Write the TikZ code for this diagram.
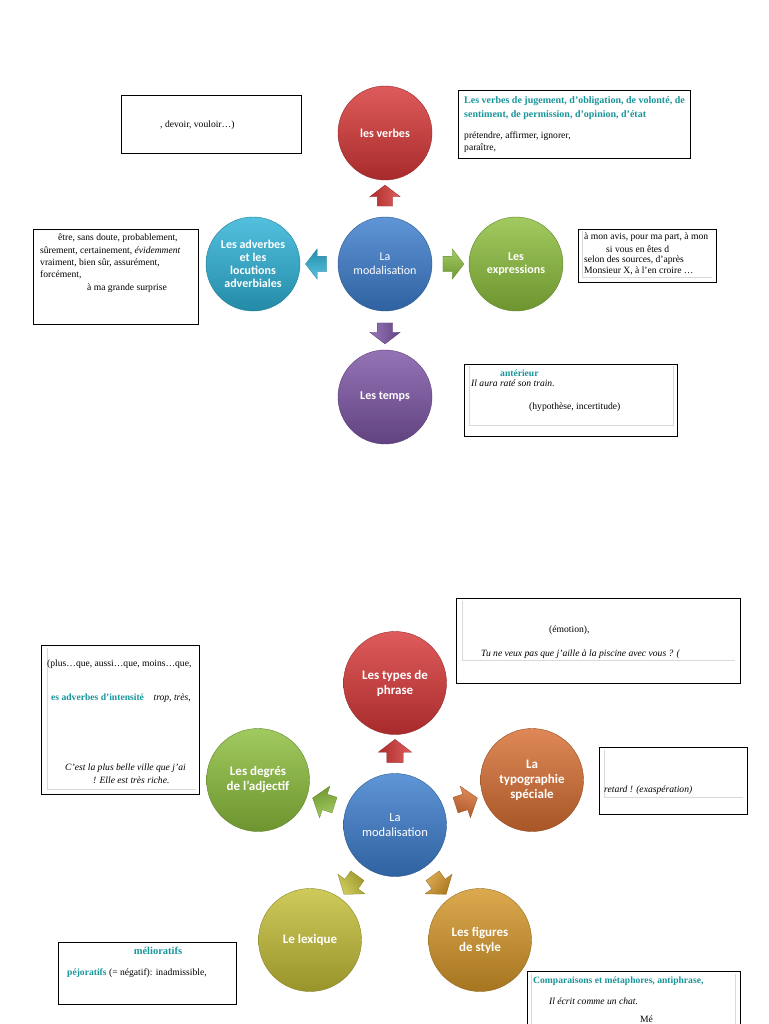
\documentclass[tikz,border=0pt]{standalone}
\usepackage{fontspec}
\setmainfont{Liberation Serif}
\newfontfamily\calibri{Carlito}
\usetikzlibrary{positioning,calc,shapes.arrows}

\definecolor{bleuvert}{RGB}{25,150,155}
\definecolor{rouge}{RGB}{215,55,55}
\definecolor{bleu}{RGB}{60,125,205}
\definecolor{cyan}{RGB}{45,178,215}
\definecolor{vert}{RGB}{140,190,60}
\definecolor{violet}{RGB}{125,85,165}
\definecolor{orange}{RGB}{215,110,50}
\definecolor{olive}{RGB}{195,190,55}
\definecolor{ocre}{RGB}{212,150,40}

\begin{document}
\begin{tikzpicture}[
  x=1pt, y=-1pt,
  bulle/.style={circle, minimum size=94pt, inner sep=1pt, align=center, text=white,
    font=\calibri\bfseries\fontsize{12}{13}\selectfont,
    top color=#1!82!white, bottom color=#1!78!black, draw=#1!70!black, line width=0.4pt},
  grande/.style={minimum size=103pt, font=\calibri\bfseries\fontsize{13}{15}\selectfont},
  centre/.style={font=\calibri\fontsize{12}{14}\selectfont},
  fleche/.style 2 args={single arrow, single arrow head extend=7.5pt, single arrow tip angle=105,
    inner xsep=0pt, inner ysep=7.5pt, minimum height=21pt, rotate=#1,
    top color=#2!80!white, bottom color=#2!80!black, shading angle=-#1,
    draw=#2!70!black, line width=0.3pt},
  grandefleche/.style={inner ysep=8pt, single arrow head extend=8.5pt, minimum height=23pt},
  cadre/.style={draw, line width=0.8pt, inner sep=0pt, anchor=north west},
  filet/.style={draw=black!15, line width=0.6pt},
  texte/.style={inner sep=0pt, anchor=west, font=\fontsize{9.6}{11}\selectfont},
  titre/.style={texte, text=bleuvert, font=\bfseries\fontsize{9.6}{11}\selectfont}
]
\useasboundingbox[fill=white] (0,0) rectangle (768,1024);

% Schema 1 : cercles
\node[bulle=bleu, centre] (mod) at (385,264) {La\\modalisation};
\node[bulle=rouge] (verbes) at (385,133) {les verbes};
\node[bulle=cyan] (adv) at (253,264) {Les adverbes\\et les\\locutions\\adverbiales};
\node[bulle=vert] (expr) at (516,264) {Les\\expressions};
\node[bulle=violet] (temps) at (385,397) {Les temps};

\node[fleche={90}{rouge}] (f1) at ($(mod)!0.5!(verbes)$) {};
\node[fleche={180}{cyan}] (f2) at ($(mod)!0.5!(adv)$) {};
\node[fleche={0}{vert}] (f3) at ($(mod)!0.5!(expr)$) {};
\node[fleche={-90}{violet}] (f4) at ($(mod)!0.5!(temps)$) {};

% Schema 1 : cadres
\node[cadre, minimum width=180pt, minimum height=58pt] (bA) at (121,95) {};
\node[texte] (tA) at (160,125) {, devoir, vouloir…)};

\node[cadre, minimum width=232pt, minimum height=68pt] (bB) at (458,90) {};
\node[titre, font=\bfseries\fontsize{10}{11}\selectfont] (tB1) at (464,101) {Les verbes de jugement, d'obligation, de volonté, de};
\node[titre, font=\bfseries\fontsize{10}{11}\selectfont] (tB2) at (464,115) {sentiment, de permission, d'opinion, d'état};
\node[texte] (tB3) at (464,136) {prétendre, affirmer, ignorer,};
\node[texte] (tB4) at (464,148) {paraître,};

\node[cadre, minimum width=165pt, minimum height=95pt] (bC) at (33,229) {};
\node[texte] (tC1) at (58,238) {être, sans doute, probablement,};
\node[texte] (tC2) at (40,251) {sûrement, certainement, \textit{évidemment}};
\node[texte] (tC3) at (40,263) {vraiment, bien sûr, assurément,};
\node[texte] (tC4) at (40,275) {forcément,};
\node[texte] (tC5) at (87,288) {à ma grande surprise};

\node[cadre, minimum width=138pt, minimum height=53pt] (bD) at (578,229) {};
\draw[filet] (582,231) -- (582,277) -- (712,277);
\node[texte] (tD1) at (584,237) {à mon avis, pour ma part, à mon};
\node[texte] (tD2) at (606,249) {si vous en êtes d};
\node[texte] (tD3) at (584,260) {selon des sources, d'après};
\node[texte] (tD4) at (584,271) {Monsieur X, à l'en croire …};

\node[cadre, minimum width=213pt, minimum height=72pt] (bE) at (464,364) {};
\draw[filet] (469,366) -- (469,425) -- (673,425) -- (673,366);
\node[titre] (tE1) at (500,373) {antérieur};
\node[texte] (tE2) at (471,383) {\textit{Il aura raté son train.}};
\node[texte] (tE3) at (529,407) {(hypothèse, incertitude)};

% Schema 2 : cercles
\node[bulle=bleu, grande, centre, font=\calibri\fontsize{12.5}{15}\selectfont] (mod2) at (395,825) {La\\modalisation};
\node[bulle=rouge, grande] (types) at (395,683) {Les types de\\phrase};
\node[bulle=vert, grande] (degres) at (258,780) {Les degrés\\de l’adjectif};
\node[bulle=orange, grande] (typo) at (532,780) {La\\typographie\\spéciale};
\node[bulle=olive, grande] (lexique) at (310,940) {Le lexique};
\node[bulle=ocre, grande] (figures) at (480,940) {Les figures\\de style};

\node[fleche={90}{rouge}, grandefleche] (g1) at ($(mod2)!0.5!(types)$) {};
\node[fleche={162}{vert}, grandefleche] (g2) at ($(mod2)!0.5!(degres)$) {};
\node[fleche={18}{orange}, grandefleche] (g3) at ($(mod2)!0.5!(typo)$) {};
\node[fleche={234}{olive}, grandefleche] (g4) at ($(mod2)!0.5!(lexique)$) {};
\node[fleche={306}{ocre}, grandefleche] (g5) at ($(mod2)!0.5!(figures)$) {};

% Schema 2 : cadres
\node[cadre, minimum width=284pt, minimum height=85pt] (bF) at (456,598) {};
\draw[filet] (462,601) -- (462,660) -- (735,660);
\node[texte] (tF1) at (549,630) {(émotion),};
\node[texte] (tF2) at (481,654) {\textit{Tu ne veux pas que j'aille à la piscine avec vous ? (}};

\node[cadre, minimum width=158pt, minimum height=149pt] (bG) at (41,645) {};
\draw[filet] (47,648) -- (47,789) -- (196,789);
\node[texte] (tG1) at (47,664) {(plus…que, aussi…que, moins…que,};
\node[texte] (tG2) at (51,698) {\textcolor{bleuvert}{\bfseries es adverbes d'intensité}\quad\textit{trop, très,}};
\node[texte] (tG3) at (65,768) {\textit{C'est la plus belle ville que j'ai}};
\node[texte] (tG4) at (93,780) {\textit{! Elle est très riche.}};

\node[cadre, minimum width=148pt, minimum height=67pt] (bH) at (599,747) {};
\draw[filet] (604,750) -- (604,797) -- (743,797);
\node[texte] (tH1) at (604,790) {\textit{retard ! (exaspération)}};

\node[cadre, minimum width=178pt, minimum height=62pt] (bI) at (58,942) {};
\node[titre, anchor=center, font=\bfseries\fontsize{10.5}{11}\selectfont] (tI1) at (158,951) {mélioratifs};
\node[texte] (tI2) at (67,973) {\textcolor{bleuvert}{\bfseries péjoratifs} (= négatif): inadmissible,};

\node[cadre, minimum width=213pt, minimum height=70pt] (bJ) at (527,971) {};
\draw[filet] (531,974) -- (531,1030);
\draw[filet] (735,974) -- (735,1030);
\node[titre] (tJ1) at (533,981) {Comparaisons et métaphores, antiphrase,};
\node[texte] (tJ2) at (549,1001) {\textit{Il écrit comme un chat.}};
\node[texte, anchor=north west] (tJ3) at (640,1016) {Mé};
\end{tikzpicture}
\end{document}
